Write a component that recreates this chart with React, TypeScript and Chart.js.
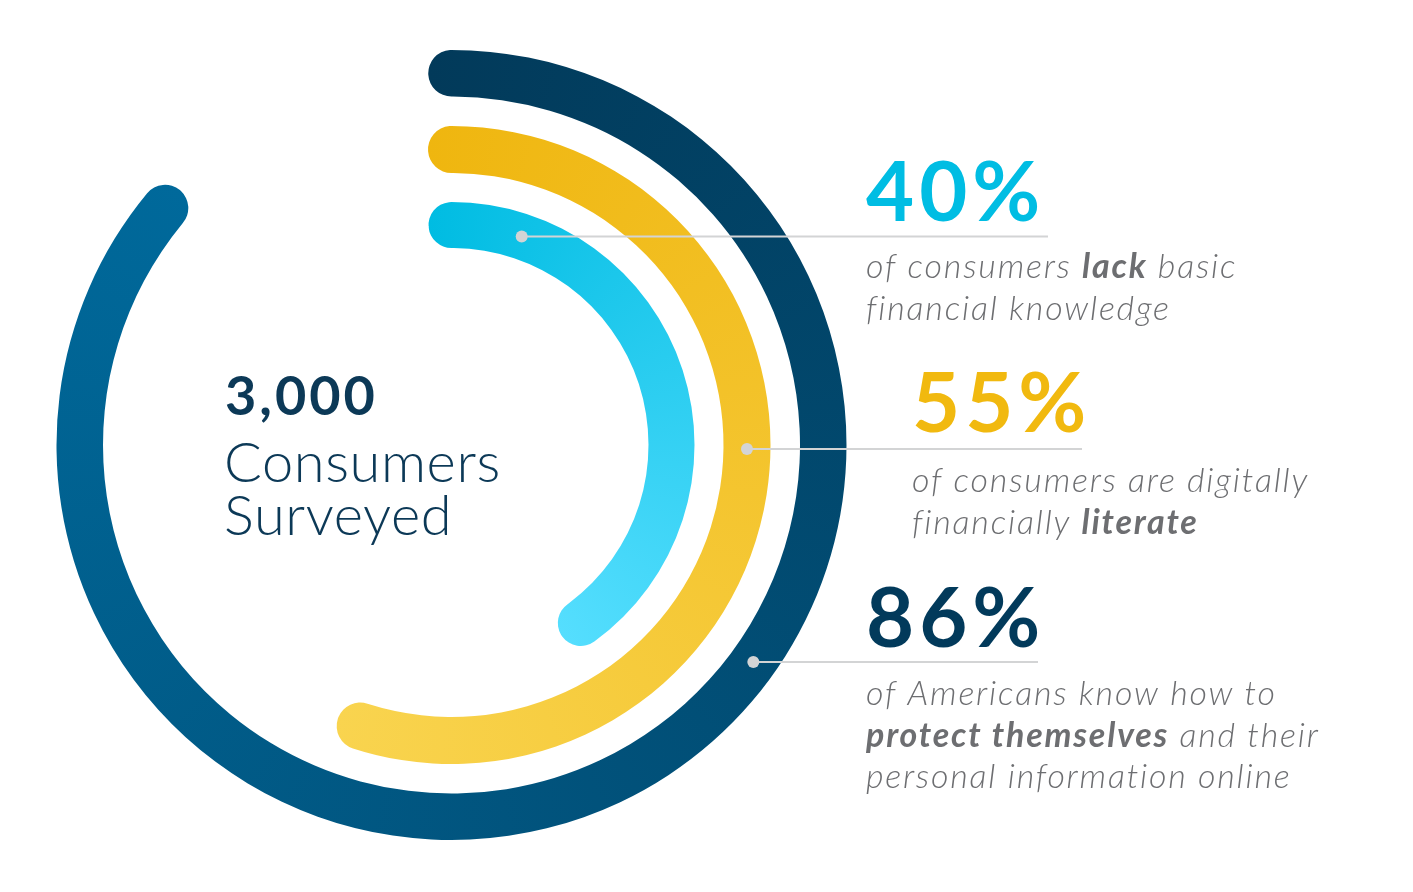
import React, { useEffect, useRef } from "react";
import { Chart, registerables } from "chart.js";

Chart.register(...registerables);

// ---------- data ----------
const categories = [
  "Lack basic financial knowledge",
  "Digitally financially literate",
  "Know how to protect personal information online",
];
const percentValues = [40, 55, 86];
const percentLabels = ["40%", "55%", "86%"];
const headlineNumber = "3,000";
const headlineLines = ["Consumers", "Surveyed"];
const descriptions: [string, boolean][][][] = [
  [
    [["of consumers ", false], ["lack", true], [" basic", false]],
    [["financial knowledge", false]],
  ],
  [
    [["of consumers are digitally", false]],
    [["financially ", false], ["literate", true]],
  ],
  [
    [["of Americans know how to", false]],
    [["protect themselves", true], [" and their", false]],
    [["personal information online", false]],
  ],
];

// ---------- styles ----------
const ringGradients = [
  ["#00bce2", "#55defe"],
  ["#efb60f", "#f9d44f"],
  ["#023a5a", "#00699b"],
];
const percentColors = ["#00bde3", "#f1b90f", "#023a5b"];
const navy = "#0c3957";
const grayText = "#6d6e71";
const leaderColor = "#d3d4d5";

const OUTER_R = 395;
// outer -> inner
const layers = [
  { ring: 2, w: 46.5 },
  { ring: -1, w: 29.5 },
  { ring: 1, w: 47 },
  { ring: -1, w: 29 },
  { ring: 0, w: 46 },
];
const totalW = layers.reduce((s, l) => s + l.w, 0);
const CUTOUT = OUTER_R - totalW;

const annotationLayout = [
  { pctX: 866, pctBase: 221, lineY: 236.5, lineEnd: 1048, descX: 866, descBase: 278 },
  { pctX: 912, pctBase: 432, lineY: 449, lineEnd: 1082, descX: 912, descBase: 492 },
  { pctX: 866, pctBase: 647, lineY: 662, lineEnd: 1038, descX: 866, descBase: 705 },
];
const DESC_SIZE = 34;
const DESC_LINE = 41.5;
const DESC_SPACING = "1.8px";
const PCT_SIZE = 83;
const PCT_SPACING = "5px";
const FAMILY = 'Lato, "Open Sans", "Noto Sans", sans-serif';

function buildDatasets() {
  let acc = 0;
  const ds: any[] = [];
  const ringMid: Record<number, number> = {};
  layers.forEach((l) => {
    const mid = OUTER_R - acc - l.w / 2;
    acc += l.w;
    if (l.ring < 0) {
      ds.push({
        label: "gap",
        data: [100],
        weight: l.w,
        backgroundColor: "rgba(0,0,0,0)",
        borderWidth: 0,
        hoverBorderWidth: 0,
      });
      return;
    }
    const i = l.ring;
    ringMid[i] = mid;
    const v = percentValues[i];
    const capRad = l.w / 2 / mid;
    const capDeg = (capRad * 180) / Math.PI;
    const [c0, c1] = ringGradients[i];
    ds.push({
      label: categories[i],
      data: [v, 100 - v],
      weight: l.w,
      rotation: -capDeg,
      circumference: 360 + (200 * capDeg) / v,
      borderWidth: 0,
      hoverBorderWidth: 0,
      hoverOffset: 0,
      borderRadius: 60,
      backgroundColor: (ctx: any) => {
        if (ctx.dataIndex !== 0) return "rgba(0,0,0,0)";
        const chart = ctx.chart;
        const ca = chart.chartArea;
        if (!ca) return c0;
        const cx = (ca.left + ca.right) / 2;
        const cy = (ca.top + ca.bottom) / 2;
        const g = chart.ctx.createConicGradient(-Math.PI / 2 - capRad, cx, cy);
        const frac = Math.min((v * 3.6 + 2 * capDeg) / 360, 1);
        g.addColorStop(0, c0);
        g.addColorStop(frac, c1);
        g.addColorStop(1, c1);
        return g;
      },
    });
  });
  return { ds, ringMid };
}

export default function App() {
  const ref = useRef<HTMLCanvasElement>(null);
  useEffect(() => {
    document.body.style.margin = "0";
    const { ds, ringMid } = buildDatasets();
    const textPlugin = {
      id: "annotations",
      afterDraw(chart: any) {
        const ctx = chart.ctx as any;
        const ca = chart.chartArea;
        const cx = (ca.left + ca.right) / 2;
        const cy = (ca.top + ca.bottom) / 2;
        ctx.save();
        ctx.textBaseline = "alphabetic";
        ctx.textAlign = "left";
        // center
        ctx.fillStyle = navy;
        ctx.letterSpacing = "3px";
        ctx.font = `700 54px ${FAMILY}`;
        ctx.fillText(headlineNumber, 225, 415);
        ctx.letterSpacing = "0.6px";
        ctx.font = `300 56px ${FAMILY}`;
        ctx.fillText(headlineLines[0], 224, 482);
        ctx.fillText(headlineLines[1], 224, 535);

        annotationLayout.forEach((a, i) => {
          const r = ringMid[i];
          const dy = a.lineY - cy;
          const dotX = cx + Math.sqrt(Math.max(r * r - dy * dy, 0));
          ctx.strokeStyle = leaderColor;
          ctx.lineWidth = 2;
          ctx.beginPath();
          ctx.moveTo(dotX, a.lineY);
          ctx.lineTo(a.lineEnd, a.lineY);
          ctx.stroke();
          ctx.fillStyle = leaderColor;
          ctx.beginPath();
          ctx.arc(dotX, a.lineY, 6, 0, Math.PI * 2);
          ctx.fill();

          ctx.fillStyle = percentColors[i];
          ctx.letterSpacing = PCT_SPACING;
          ctx.font = `700 ${PCT_SIZE}px ${FAMILY}`;
          ctx.fillText(percentLabels[i], a.pctX, a.pctBase);

          ctx.fillStyle = grayText;
          ctx.letterSpacing = DESC_SPACING;
          descriptions[i].forEach((line, li) => {
            let x = a.descX;
            const y = a.descBase + li * DESC_LINE;
            line.forEach(([t, bold]) => {
              ctx.font = `italic ${bold ? 700 : 300} ${DESC_SIZE}px ${FAMILY}`;
              ctx.fillText(t, x, y);
              x += ctx.measureText(t).width;
            });
          });
        });
        ctx.restore();
      },
    };
    const chart = new Chart(ref.current!, {
      type: "doughnut",
      data: { labels: ["value", "rest"], datasets: ds },
      options: {
        responsive: false,
        animation: false,
        events: [],
        cutout: CUTOUT,
        layout: { padding: { left: 56.5, right: 566.5, top: 50, bottom: 52 } },
        plugins: { legend: { display: false }, tooltip: { enabled: false } },
      } as any,
      plugins: [textPlugin],
    });
    return () => chart.destroy();
  }, []);
  return (
    <div style={{ position: "absolute", left: 0, top: 0, width: 1413, height: 892, background: "#fff" }}>
      <canvas ref={ref} width={1413} height={892} style={{ display: "block", width: 1413, height: 892 }} />
    </div>
  );
}
